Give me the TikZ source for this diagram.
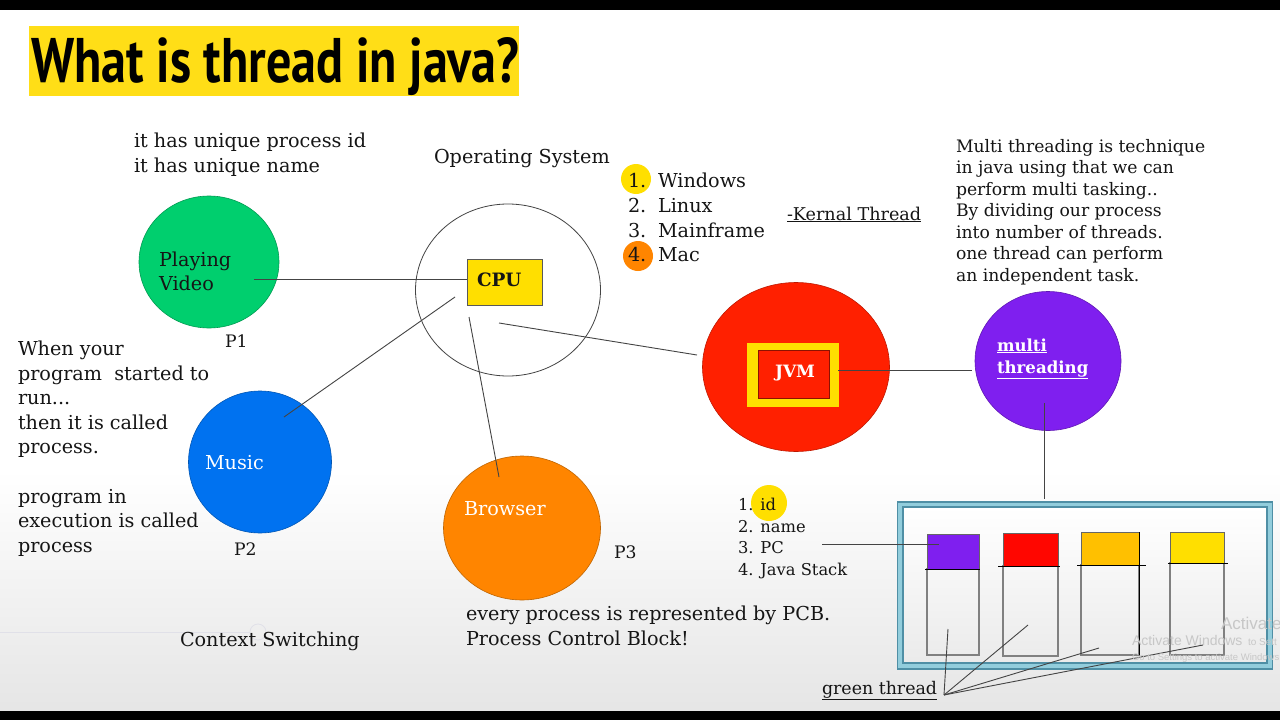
\documentclass[tikz,border=0pt]{standalone}
\usepackage{fontspec}
\usetikzlibrary{shapes.geometric}
\setmainfont{DejaVu Serif}
\newfontfamily\titlefont{PT Sans}[FakeStretch=0.795,BoldFont={PT Sans Bold}]
\newfontfamily\wmfont{Liberation Sans}
\definecolor{ttlyellow}{HTML}{FFDE17}
\definecolor{pgreen}{HTML}{00CF6E}
\definecolor{pblue}{HTML}{0072F0}
\definecolor{porange}{HTML}{FF8500}
\definecolor{jred}{HTML}{FF2000}
\definecolor{cyellow}{HTML}{FFDF00}
\definecolor{mpurple}{HTML}{7F1FEF}
\definecolor{framefill}{HTML}{92CDDC}
\definecolor{frameline}{HTML}{4F8FA5}
\definecolor{tamber}{HTML}{FFC000}
\definecolor{ink}{HTML}{151515}
\definecolor{wire}{HTML}{444444}
\tikzset{
  blob/.style={ellipse,inner sep=0pt,outer sep=0pt,draw=#1!75!black,line width=0.6pt,fill=#1},
  hollow/.style={ellipse,inner sep=0pt,outer sep=0pt,draw=wire,line width=0.8pt},
  boxy/.style={rectangle,inner sep=0pt,outer sep=0pt},
  txt/.style={inner sep=0pt,outer sep=0pt,anchor=north west,align=left,text=ink,font=\fontsize{19.2}{24.6}\selectfont},
  lbl/.style={inner sep=0pt,outer sep=0pt,anchor=base west,text=ink,font=\fontsize{19.2}{24.6}\selectfont},
  wht/.style={lbl,text=white},
  small/.style={lbl,font=\fontsize{16.3}{21}\selectfont},
  plabel/.style={lbl,font=\fontsize{17.2}{21}\selectfont},
  wirel/.style={draw=wire,line width=0.9pt},
  header/.style={boxy,draw=black!60,line width=1pt},
  body/.style={boxy,draw=black!50,line width=1.2pt},
  wm/.style={inner sep=0pt,outer sep=0pt,anchor=base west,text=black!22,font=\wmfont\fontsize{#1}{#1}\selectfont},
}
\begin{document}
\begin{tikzpicture}[x=1pt,y=-1pt]
\useasboundingbox (0,0) rectangle (1280,720);
% background
\fill[white] (0,0) rectangle (1280,720);
\shade[top color=white,bottom color=black!10] (0,470) rectangle (1280,711);
\fill[black] (0,0) rectangle (1280,10);
\fill[black] (0,711) rectangle (1280,720);
% faint cursor trace
\draw[blue!25!black!12,line width=0.8pt] (0,632) -- (250,632);
\draw[blue!25!black!12,line width=0.8pt] (258,632) circle (8);
% title
\node[boxy,fill=ttlyellow,minimum width=490pt,minimum height=70pt] (titlebar) at (274,61) {};
\node[inner sep=0pt,anchor=base west,text=black,font=\titlefont\bfseries\fontsize{63}{63}\selectfont] (title) at (31,82) {What is thread in java?};
% process circles
\node[blob=pgreen,minimum width=140pt,minimum height=132pt] (video) at (209,262) {};
\node[blob=pblue,minimum width=143pt,minimum height=142pt] (music) at (260,462) {};
\node[blob=porange,minimum width=157pt,minimum height=144pt] (browser) at (522,528) {};
% cpu
\node[hollow,minimum width=185pt,minimum height=172pt] (os) at (508,290) {};
\node[boxy,fill=cyellow,draw=black!65,line width=0.8pt,minimum width=75pt,minimum height=46pt] (cpu) at (504.5,282) {};
% jvm
\node[blob=jred,minimum width=187pt,minimum height=169pt] (jvmc) at (796,367) {};
\node[boxy,fill=cyellow,minimum width=92pt,minimum height=64pt] (jvmo) at (793,375) {};
\node[boxy,fill=jred,draw=jred!55!black,line width=0.9pt,minimum width=71pt,minimum height=48pt] (jvmi) at (793.5,374) {};
% multithreading
\node[blob=mpurple,minimum width=146pt,minimum height=139pt] (multi) at (1048,361) {};
% list highlights
\node[circle,fill=cyellow,inner sep=0pt,minimum size=30pt] (hl1) at (636,179) {};
\node[circle,fill=porange,inner sep=0pt,minimum size=30pt] (hl4) at (638,256) {};
\node[circle,fill=cyellow,inner sep=0pt,minimum size=36pt] (hlid) at (769,503) {};
% frame
\node[boxy,fill=framefill,draw=frameline,line width=1.6pt,minimum width=375pt,minimum height=167pt] (frameo) at (1085,585.5) {};
\node[boxy,draw=frameline,line width=1.2pt,minimum width=364pt,minimum height=156pt,shade,top color=white,bottom color=black!8] (framei) at (1085,585) {};
% thread stacks
\node[body,minimum width=52pt,minimum height=86pt] (b1) at (953,612) {};
\node[body,minimum width=55pt,minimum height=90pt] (b2) at (1030.5,611) {};
\node[body,minimum width=58pt,minimum height=90pt] (b3) at (1110,610) {};
\node[body,minimum width=54pt,minimum height=92pt] (b4) at (1197,609) {};
\node[header,fill=mpurple,minimum width=52pt,minimum height=35pt] (h1) at (953,551.5) {};
\node[header,fill=red!95!orange,minimum width=55pt,minimum height=33pt] (h2) at (1030.5,549.5) {};
\node[header,fill=tamber,minimum width=58pt,minimum height=33pt] (h3) at (1110,548.5) {};
\node[header,fill=cyellow,minimum width=54pt,minimum height=31pt] (h4) at (1197,547.5) {};
\draw[black,line width=1pt] (h3.north east) -- (b3.south east);
% connector end points
\coordinate (a1) at (254,279);
\coordinate (a2) at (467,279);
\coordinate (c1) at (284,417);
\coordinate (c2) at (455,297);
\coordinate (d1) at (469,317);
\coordinate (d2) at (499,477);
\coordinate (e1) at (499,323);
\coordinate (e2) at (697,355);
\coordinate (f1) at (838,370);
\coordinate (f2) at (972,370);
\coordinate (g1) at (1044,403);
\coordinate (g2) at (1044,499);
\coordinate (i1) at (822,544);
\coordinate (i2) at (939,544);
\coordinate (green) at (944,695);
\coordinate (t1) at (948,629);
\coordinate (t2) at (1028,625);
\coordinate (t3) at (1099,648);
\coordinate (t4) at (1203,645);
\draw[wirel] (a1) -- (a2);
\draw[wirel] (c1) -- (c2);
\draw[wirel] (d1) -- (d2);
\draw[wirel] (e1) -- (e2);
\draw[wirel] (f1) -- (f2);
\draw[wirel] (g1) -- (g2);
\draw[wirel] (i1) -- (i2);
\draw[wirel] (green) -- (t1);
\draw[wirel] (green) -- (t2);
\draw[wirel] (green) -- (t3);
\draw[wirel] (green) -- (t4);
\coordinate (s1a) at (925,569); \coordinate (s1b) at (980,569);
\coordinate (s2a) at (998,566); \coordinate (s2b) at (1060,566);
\coordinate (s3a) at (1077,565); \coordinate (s3b) at (1146,565);
\coordinate (s4a) at (1168,563); \coordinate (s4b) at (1228,563);
\draw[black,line width=0.8pt] (s1a) -- (s1b) (s2a) -- (s2b) (s3a) -- (s3b) (s4a) -- (s4b);
% texts
\node[txt] (t-id) at (134,133) {it has unique process id\\it has unique name};
\node[lbl] (t-os) at (434,163) {Operating System};
\node[lbl] (n1) at (628,187) {1.};
\node[lbl] (l1) at (658,187) {Windows};
\node[lbl] (n2) at (628,212) {2.};
\node[lbl] (l2) at (658,212) {Linux};
\node[lbl] (n3) at (628,237) {3.};
\node[lbl] (l3) at (658,237) {Mainframe};
\node[lbl] (n4) at (628,261) {4.};
\node[lbl] (l4) at (658,261) {Mac};
\node[plabel,font=\fontsize{17.6}{21}\selectfont] (kern) at (787,220) {\underline{-Kernal Thread}};
\node[txt,font=\fontsize{17.2}{21.5}\selectfont] (t-mt) at (956,139) {Multi threading is technique\\in java using that we can\\perform multi tasking..\\By dividing our process\\into number of threads.\\one thread can perform\\an independent task.};
\node[lbl] (pv1) at (159,266) {Playing};
\node[lbl] (pv2) at (159,290) {Video};
\node[plabel] (p1) at (225,347) {P1};
\node[plabel] (p2) at (234,555) {P2};
\node[plabel] (p3) at (614,558) {P3};
\node[wht] (mus) at (205,469) {Music};
\node[wht] (brw) at (464,515) {Browser};
\node[lbl,font=\bfseries\fontsize{18.4}{24}\selectfont] (cpul) at (477,286) {CPU};
\node[wht,font=\bfseries\fontsize{17}{20}\selectfont] (jvml) at (775,377) {JVM};
\node[wht,font=\bfseries\fontsize{16.6}{20}\selectfont] (mt1) at (997,351) {\underline{multi}};
\node[wht,font=\bfseries\fontsize{16.6}{20}\selectfont] (mt2) at (997,373) {\underline{threading}};
\node[txt] (t-run) at (18,341) {When your\\program\ \ started to\\run...\\then it is called\\process.\\[24.6pt]program in\\execution is called\\process};
\node[small] (i1t) at (738,510) {1. id};
\node[small] (i2t) at (738,532) {2. name};
\node[small] (i3t) at (738,553) {3. PC};
\node[small] (i4t) at (738,575) {4. Java Stack};
\node[txt] (pcb) at (466,606) {every process is represented by PCB.\\Process Control Block!};
\node[lbl] (ctx) at (180,646) {Context Switching};
\node[plabel,font=\fontsize{17.4}{21}\selectfont] (gt) at (822,694) {\underline{green thread}};
% watermark
\node[wm=17] (w1) at (1221,629) {Activate};
\node[wm=14] (w2) at (1132,645) {Activate Windows};
\node[wm=9.5] (w3) at (1132,660) {Go to Settings to activate Windows.};
\node[wm=10] (w4) at (1248,645) {to Sett};
\end{tikzpicture}
\end{document}
